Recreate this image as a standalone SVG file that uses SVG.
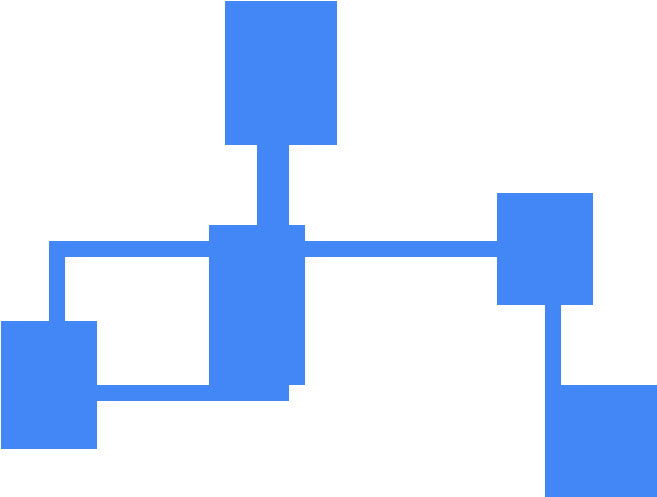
<svg xmlns="http://www.w3.org/2000/svg" width="657" height="497" viewBox="0 0 657 497">
<style>
.n{fill:#4287f5}
.c{fill:none;stroke:#4287f5;stroke-linecap:butt;stroke-linejoin:miter}
</style>
<rect width="657" height="497" fill="#fff"/>
<g id="connectors">
<path class="c" d="M57,321 V249 H497" stroke-width="16"/>
<path class="c" d="M273,145 V225" stroke-width="32"/>
<path class="c" d="M97,393 H289" stroke-width="16"/>
<path class="c" d="M553,305 V385" stroke-width="16"/>
</g>
<g id="node-top"><rect class="n" x="225" y="1" width="112" height="144"/></g>
<g id="node-center"><rect class="n" x="209" y="225" width="96" height="160"/></g>
<g id="node-left"><rect class="n" x="1" y="321" width="96" height="128"/></g>
<g id="node-right"><rect class="n" x="497" y="193" width="96" height="112"/></g>
<g id="node-bottom-right"><rect class="n" x="545" y="385" width="112" height="112"/></g>
</svg>
